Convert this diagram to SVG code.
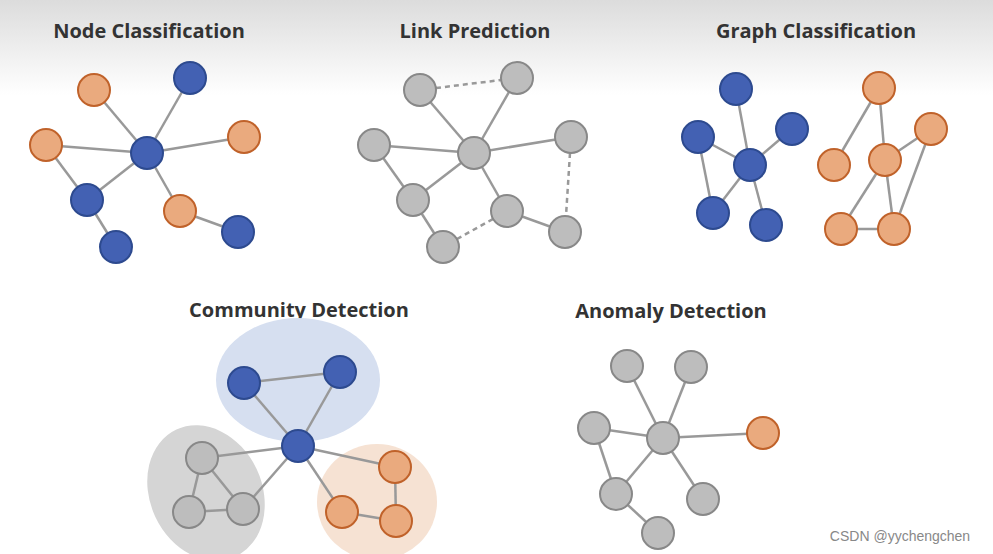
<svg xmlns="http://www.w3.org/2000/svg" width="993" height="554" viewBox="0 0 993 554">
<defs>
<linearGradient id="bg" x1="0" y1="0" x2="0" y2="1"><stop offset="0" stop-color="#dcdcdc"/><stop offset="1" stop-color="#ffffff"/></linearGradient>
<style>
.t{font-family:"Open Sans","Liberation Sans",sans-serif;font-weight:bold;font-size:20px;fill:#333;text-anchor:middle}
.e line{stroke:#999;stroke-width:2.5}
.r{stroke:#d9312b;stroke-width:5;stroke-dasharray:5 4}
.b{fill:#4361b3;stroke:#2d4a8f;stroke-width:2}
.o{fill:#eaaa7e;stroke:#c0622a;stroke-width:2}
.g{fill:#bdbdbd;stroke:#888;stroke-width:2}
</style>
</defs>
<rect width="993" height="554" fill="#fff"/>
<rect width="993" height="95" fill="url(#bg)"/>
<g id="titles">
<text class="t" x="149" y="38">Node Classification</text>
<text class="t" x="475" y="38">Link Prediction</text>
<text class="t" x="816" y="38">Graph Classification</text>
<text class="t" x="299" y="317">Community Detection</text>
<text class="t" x="671" y="318">Anomaly Detection</text>
</g>
<g id="hulls">
<ellipse cx="298" cy="380" rx="82" ry="62" fill="#d6dff0"/>
<ellipse cx="206" cy="493" rx="56" ry="70" transform="rotate(-25 206 493)" fill="#d5d5d5"/>
<ellipse cx="377" cy="502" rx="60" ry="58" fill="#f6e2d3"/>
</g>
<g id="connectors" class="e">
<line x1="147" y1="153" x2="94" y2="90"/><line x1="147" y1="153" x2="190" y2="78"/><line x1="147" y1="153" x2="244" y2="137"/><line x1="147" y1="153" x2="46" y2="145"/><line x1="147" y1="153" x2="87" y2="200"/><line x1="147" y1="153" x2="180" y2="211"/><line x1="46" y1="145" x2="87" y2="200"/><line x1="87" y1="200" x2="116" y2="247"/><line x1="180" y1="211" x2="238" y2="232"/>
<line x1="474" y1="153" x2="420" y2="90"/><line x1="474" y1="153" x2="517" y2="78"/><line x1="474" y1="153" x2="571" y2="137"/><line x1="474" y1="153" x2="374" y2="145"/><line x1="474" y1="153" x2="413" y2="200"/><line x1="474" y1="153" x2="507" y2="211"/><line x1="374" y1="145" x2="413" y2="200"/><line x1="413" y1="200" x2="443" y2="247"/><line x1="507" y1="211" x2="565" y2="232"/>
<line class="r" x1="436" y1="88" x2="501" y2="80"/><line class="r" x1="570" y1="153" x2="566" y2="216"/><line class="r" x1="457" y1="239" x2="493" y2="219"/>
<line x1="736" y1="89" x2="750" y2="165"/><line x1="698" y1="137" x2="750" y2="165"/><line x1="792" y1="129" x2="750" y2="165"/><line x1="750" y1="165" x2="713" y2="213"/><line x1="750" y1="165" x2="766" y2="225"/><line x1="698" y1="137" x2="713" y2="213"/>
<line x1="879" y1="88" x2="834" y2="165"/><line x1="879" y1="88" x2="885" y2="160"/><line x1="885" y1="160" x2="931" y2="129"/><line x1="885" y1="160" x2="841" y2="229"/><line x1="885" y1="160" x2="894" y2="229"/><line x1="931" y1="129" x2="894" y2="229"/><line x1="841" y1="229" x2="894" y2="229"/>
<line x1="244" y1="383" x2="340" y2="372"/><line x1="244" y1="383" x2="298" y2="446"/><line x1="340" y1="372" x2="298" y2="446"/><line x1="298" y1="446" x2="202" y2="458"/><line x1="298" y1="446" x2="243" y2="509"/><line x1="298" y1="446" x2="395" y2="467"/><line x1="298" y1="446" x2="342" y2="512"/><line x1="202" y1="458" x2="189" y2="512"/><line x1="202" y1="458" x2="243" y2="509"/><line x1="189" y1="512" x2="243" y2="509"/><line x1="395" y1="467" x2="396" y2="521"/><line x1="342" y1="512" x2="396" y2="521"/>
<line x1="663" y1="438" x2="627" y2="366"/><line x1="663" y1="438" x2="691" y2="367"/><line x1="663" y1="438" x2="594" y2="428"/><line x1="663" y1="438" x2="763" y2="433"/><line x1="663" y1="438" x2="616" y2="494"/><line x1="663" y1="438" x2="703" y2="499"/><line x1="594" y1="428" x2="616" y2="494"/><line x1="616" y1="494" x2="658" y2="533"/>
</g>
<g id="node-classification">
<circle class="b" cx="147" cy="153" r="16"/><circle class="o" cx="94" cy="90" r="16"/><circle class="o" cx="46" cy="145" r="16"/><circle class="o" cx="244" cy="137" r="16"/><circle class="o" cx="180" cy="211" r="16"/><circle class="b" cx="190" cy="78" r="16"/><circle class="b" cx="87" cy="200" r="16"/><circle class="b" cx="116" cy="247" r="16"/><circle class="b" cx="238" cy="232" r="16"/>
</g>
<g id="link-prediction">
<circle class="g" cx="474" cy="153" r="16"/><circle class="g" cx="420" cy="90" r="16"/><circle class="g" cx="517" cy="78" r="16"/><circle class="g" cx="374" cy="145" r="16"/><circle class="g" cx="571" cy="137" r="16"/><circle class="g" cx="413" cy="200" r="16"/><circle class="g" cx="507" cy="211" r="16"/><circle class="g" cx="443" cy="247" r="16"/><circle class="g" cx="565" cy="232" r="16"/>
</g>
<g id="graph-classification">
<circle class="b" cx="736" cy="89" r="16"/><circle class="b" cx="698" cy="137" r="16"/><circle class="b" cx="792" cy="129" r="16"/><circle class="b" cx="750" cy="165" r="16"/><circle class="b" cx="713" cy="213" r="16"/><circle class="b" cx="766" cy="225" r="16"/>
<circle class="o" cx="879" cy="88" r="16"/><circle class="o" cx="834" cy="165" r="16"/><circle class="o" cx="885" cy="160" r="16"/><circle class="o" cx="931" cy="129" r="16"/><circle class="o" cx="841" cy="229" r="16"/><circle class="o" cx="894" cy="229" r="16"/>
</g>
<g id="community-detection">
<circle class="b" cx="244" cy="383" r="16"/><circle class="b" cx="340" cy="372" r="16"/><circle class="b" cx="298" cy="446" r="16"/>
<circle class="g" cx="202" cy="458" r="16"/><circle class="g" cx="189" cy="512" r="16"/><circle class="g" cx="243" cy="509" r="16"/>
<circle class="o" cx="395" cy="467" r="16"/><circle class="o" cx="342" cy="512" r="16"/><circle class="o" cx="396" cy="521" r="16"/>
</g>
<g id="anomaly-detection">
<circle class="g" cx="627" cy="366" r="16"/><circle class="g" cx="691" cy="367" r="16"/><circle class="g" cx="594" cy="428" r="16"/><circle class="g" cx="663" cy="438" r="16"/><circle class="g" cx="616" cy="494" r="16"/><circle class="g" cx="703" cy="499" r="16"/><circle class="g" cx="658" cy="533" r="16"/><circle class="o" cx="763" cy="433" r="16"/>
</g>
<text x="900" y="541" font-family="Liberation Sans,sans-serif" font-size="14" fill="#888" text-anchor="middle">CSDN @yychengchen</text>
</svg>
